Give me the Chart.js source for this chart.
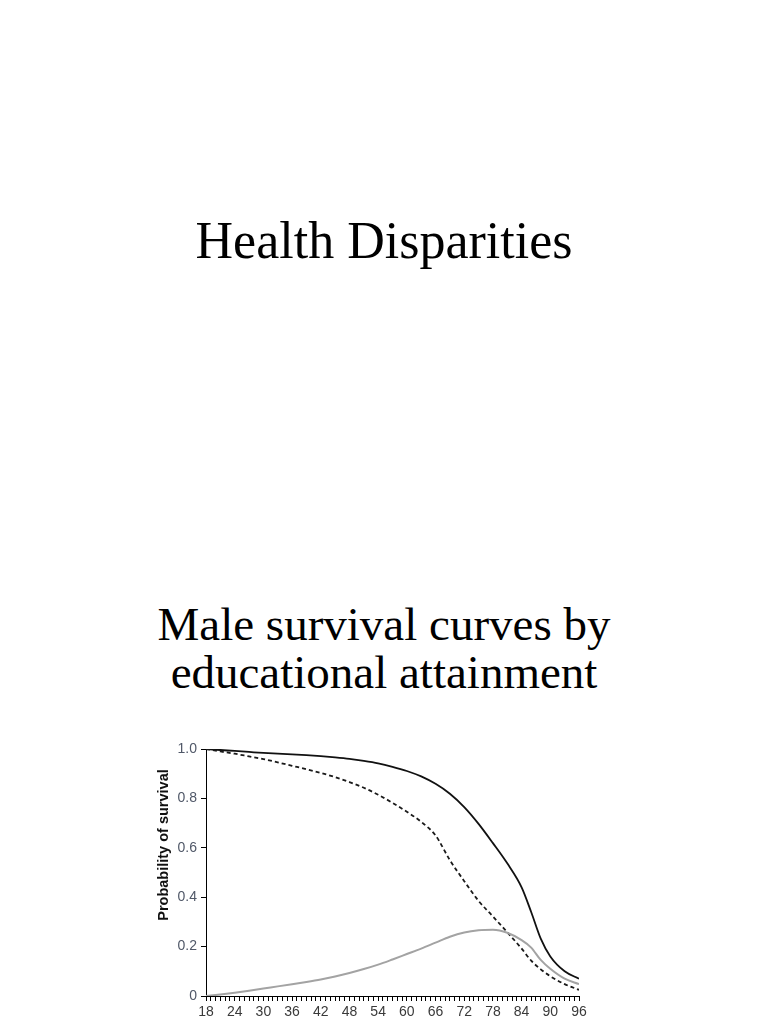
<!DOCTYPE html>
<html>
<head>
<meta charset="utf-8">
<script src="https://cdn.jsdelivr.net/npm/chart.js@4.4.1/dist/chart.umd.min.js"></script>
<style>
  html, body { margin: 0; padding: 0; background: #fff; }
  body { width: 768px; height: 1024px; position: relative; overflow: hidden; }
  .title { position: absolute; left: 0; width: 768px; text-align: center; color: #000;
           font-family: "Liberation Serif", "DejaVu Serif", serif; }
  #t1 { top: 215px; font-size: 52px; line-height: 52px; }
  #t2 { top: 600px; font-size: 47px; line-height: 48px; }
  #wrap { position: absolute; left: 0; top: 730px; width: 768px; height: 294px; }
</style>
</head>
<body>
<div class="title" id="t1">Health Disparities</div>
<div class="title" id="t2">Male survival curves by<br>educational attainment</div>
<div id="wrap"><canvas id="survival-chart"></canvas></div>
<script>
// ages
const ages = [18, 21, 24, 27, 30, 33, 36, 39, 42, 45, 48, 51, 54, 57, 60, 63, 66, 69, 72, 75, 78, 81, 84, 86, 88, 90, 93, 96];

// solid black curve
const solidCurve = [1.0, 0.996, 0.992, 0.988, 0.984, 0.981, 0.978, 0.975, 0.971, 0.966, 0.96, 0.952, 0.942, 0.928, 0.911, 0.889, 0.859, 0.819, 0.765, 0.697, 0.619, 0.537, 0.44, 0.34, 0.232, 0.16, 0.1, 0.07];
// dashed black curve
const dashedCurve = [1.0, 0.99, 0.981, 0.97, 0.959, 0.946, 0.932, 0.918, 0.903, 0.886, 0.866, 0.843, 0.815, 0.782, 0.746, 0.705, 0.65, 0.55, 0.465, 0.385, 0.322, 0.258, 0.192, 0.143, 0.108, 0.08, 0.048, 0.025];
// grey curve
const greyCurve = [0, 0.006, 0.013, 0.021, 0.03, 0.039, 0.048, 0.057, 0.067, 0.079, 0.093, 0.109, 0.127, 0.148, 0.17, 0.192, 0.216, 0.24, 0.257, 0.266, 0.268, 0.256, 0.226, 0.196, 0.146, 0.11, 0.07, 0.048];

const yTicks = [0, 0.2, 0.4, 0.6, 0.8, 1.0];
const xLabelStep = 6;
const yTitle = 'Probability of survival';

function toPoints(vals) {
    return ages.map(function(a, i) { return { x: a, y: vals[i] }; });
}

// y axis title drawn a bit above the axis middle, like the original
const yTitlePlugin = {
    id: 'yTitle',
    afterDraw: function(chart) {
        const c = chart.ctx;
        const area = chart.chartArea;
        c.save();
        c.translate(area.left - 42, area.top + 96);
        c.rotate(-Math.PI / 2);
        c.font = 'bold 14.5px "Liberation Sans", Arial, sans-serif';
        c.fillStyle = '#111';
        c.textAlign = 'center';
        c.textBaseline = 'middle';
        c.fillText(yTitle, 0, 0);
        c.restore();
    }
};

const ctx = document.getElementById('survival-chart').getContext('2d');
new Chart(ctx, {
    type: 'line',
    data: {
        datasets: [
            {
                label: 'grey',
                data: toPoints(greyCurve),
                borderColor: '#a3a3a3',
                borderWidth: 2,
                pointRadius: 0,
                cubicInterpolationMode: 'monotone'
            },
            {
                label: 'dashed',
                data: toPoints(dashedCurve),
                borderColor: '#1a1a1a',
                borderWidth: 1.8,
                borderDash: [4, 3],
                pointRadius: 0,
                cubicInterpolationMode: 'monotone'
            },
            {
                label: 'solid',
                data: toPoints(solidCurve),
                borderColor: '#111',
                borderWidth: 1.8,
                pointRadius: 0,
                cubicInterpolationMode: 'monotone'
            }
        ]
    },
    plugins: [yTitlePlugin],
    options: {
        responsive: true,
        maintainAspectRatio: false,
        animation: false,
        layout: { padding: { left: 152, right: 189, top: 19, bottom: 0 } },
        plugins: { legend: { display: false }, tooltip: { enabled: false } },
        scales: {
            x: {
                type: 'linear',
                min: 18,
                max: 96,
                afterFit: function(scale) { scale.height = 28; },
                border: { display: true, color: '#000', width: 1 },
                grid: { drawOnChartArea: false, tickLength: 5, color: '#000', lineWidth: 1 },
                ticks: {
                    stepSize: 1,
                    autoSkip: false,
                    maxRotation: 0,
                    padding: 3,
                    color: '#3a3a3a',
                    font: { family: 'Liberation Sans', size: 14 },
                    callback: function(v) { return (v - 18) % xLabelStep === 0 ? String(v) : ''; }
                }
            },
            y: {
                min: 0,
                max: 1,
                afterFit: function(scale) { scale.width = 54; },
                afterBuildTicks: function(scale) { scale.ticks = yTicks.map(function(v) { return { value: v }; }); },
                border: { display: true, color: '#000', width: 1 },
                grid: { drawOnChartArea: false, tickLength: 5, color: '#000', lineWidth: 1 },
                ticks: {
                    padding: 4,
                    color: '#505868',
                    font: { family: 'Liberation Sans', size: 14 },
                    callback: function(v) { return v === 0 ? '0' : v.toFixed(1); }
                }
            }
        }
    }
});
</script>
</body>
</html>
